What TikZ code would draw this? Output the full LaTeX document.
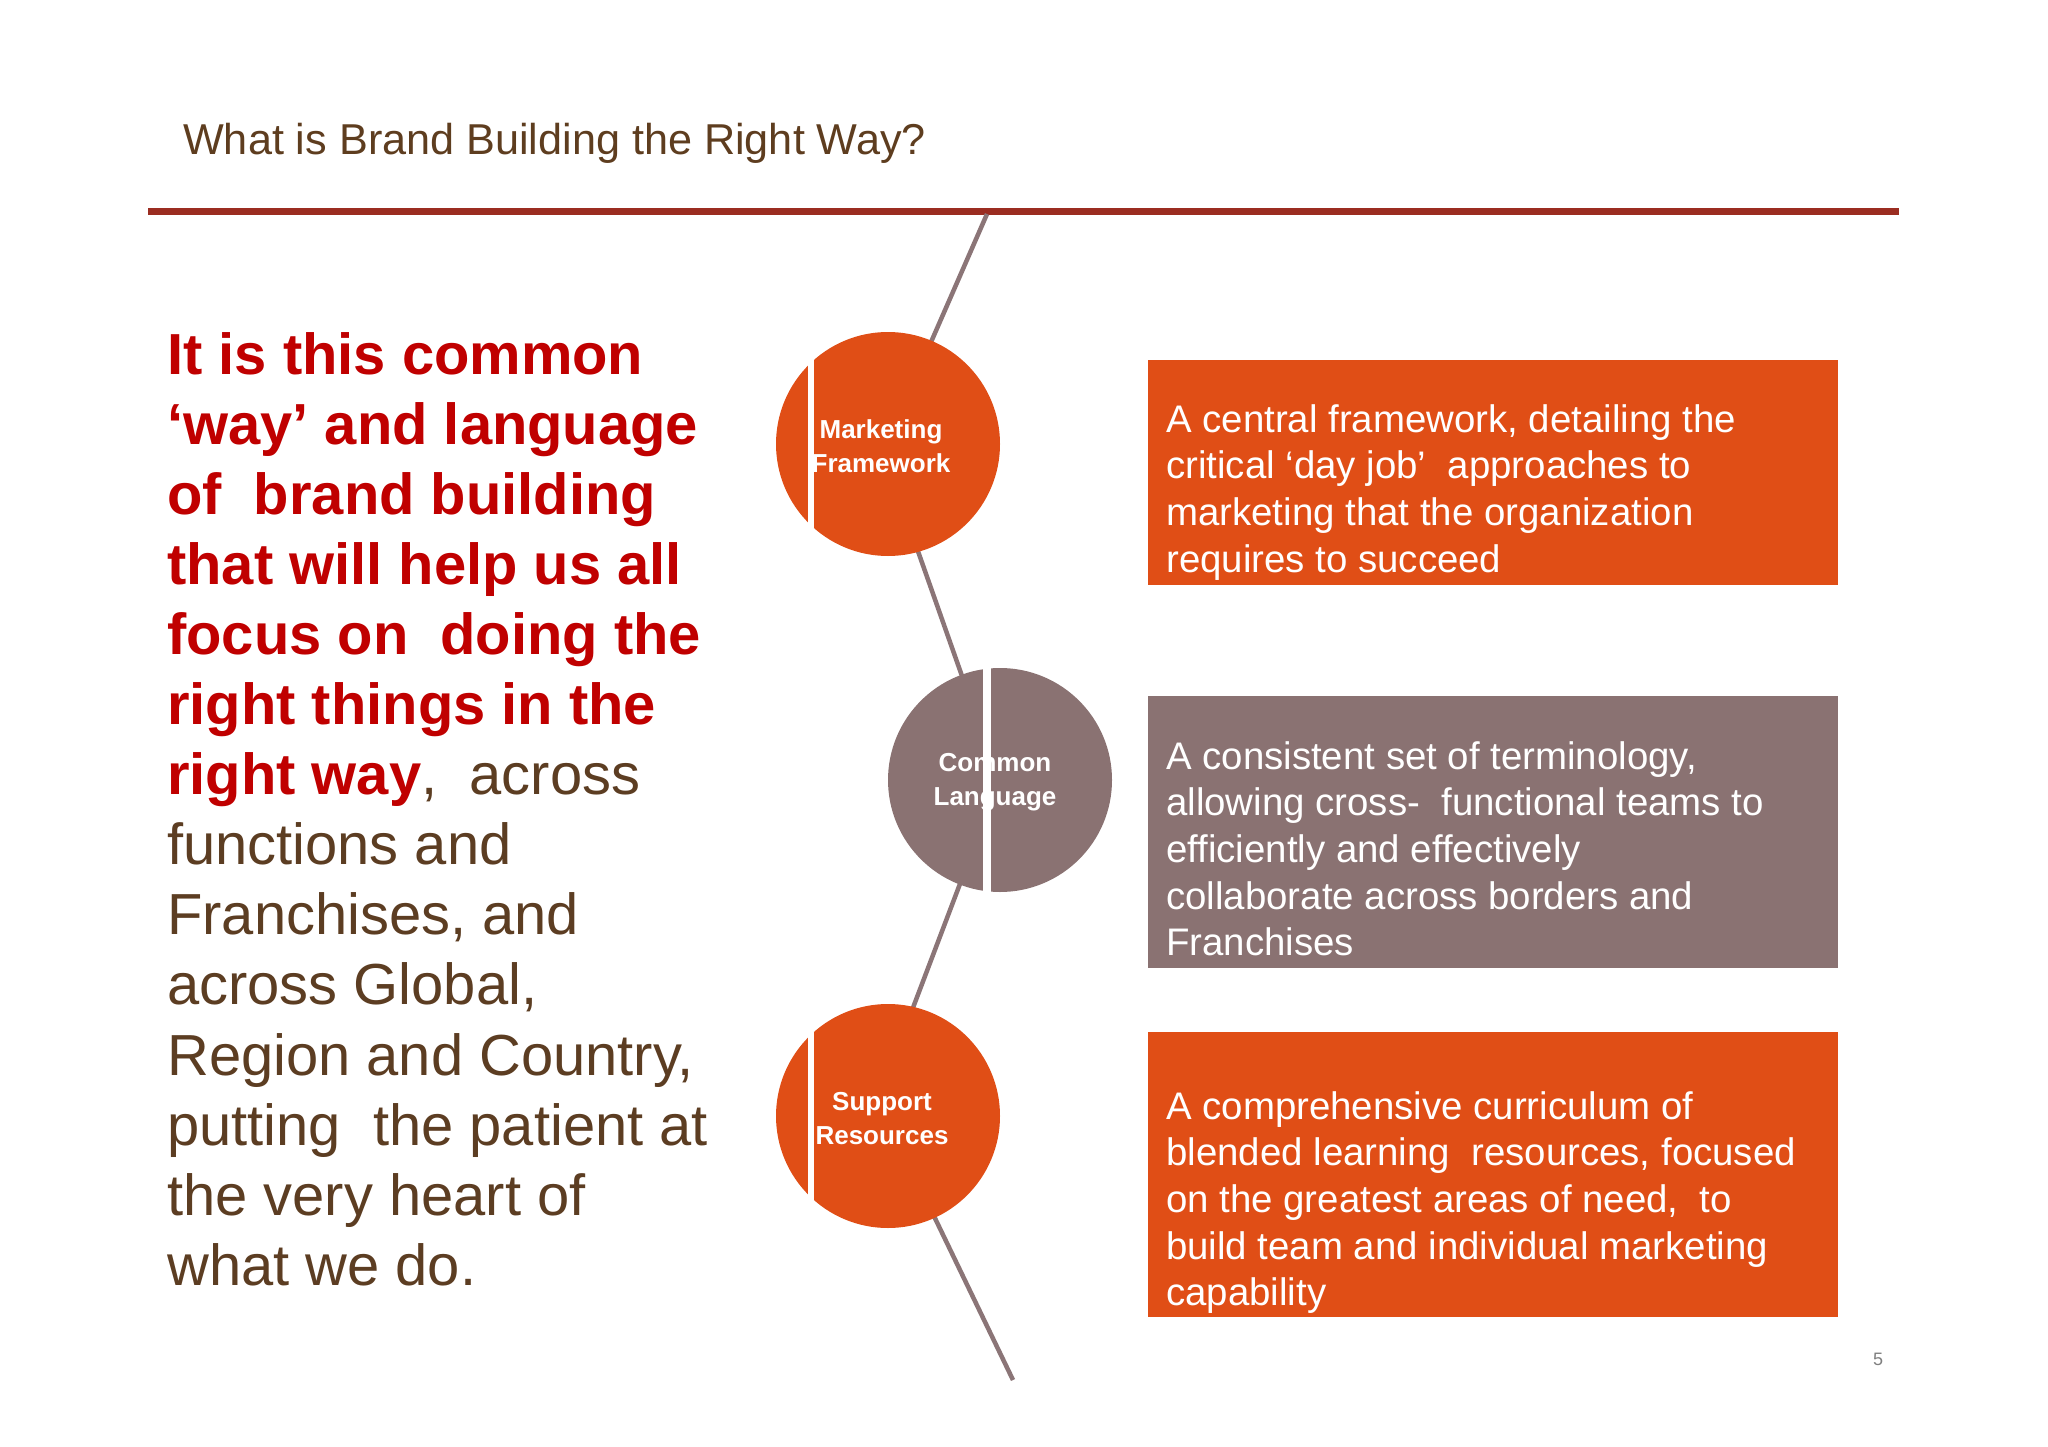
\documentclass[tikz,border=0pt]{standalone}
\usepackage{fontspec}
\setmainfont{Liberation Sans}
\definecolor{titlebrown}{HTML}{5E3D1F}
\definecolor{textbrown}{HTML}{5C3D22}
\definecolor{hired}{HTML}{C00000}
\definecolor{rulered}{HTML}{9B2D21}
\definecolor{orng}{HTML}{E04E16}
\definecolor{mauve}{HTML}{8A7272}
\definecolor{linegrey}{HTML}{8B7577}
\definecolor{pagegrey}{HTML}{7F7F7F}
\begin{document}
\begin{tikzpicture}[x=1pt,y=-1pt,
  disc/.style={circle, minimum size=224pt, inner sep=0pt},
  panel/.style={rectangle, inner sep=0pt, anchor=north west, minimum width=690pt},
  paneltext/.style={anchor=base west, inner sep=0pt, text=white, font=\fontsize{38.4}{46.7}\selectfont},
  disclabel/.style={text=white, font=\bfseries\fontsize{26}{34}\selectfont, align=center, inner sep=0pt},
  zig/.style={draw=linegrey, line width=4.5pt},
  gapfill/.style={fill=white}
]
\useasboundingbox (0,0) rectangle (2048,1447);
\fill[white] (0,0) rectangle (2048,1447);

% title and rule
\node[anchor=base west, inner sep=0pt, text=titlebrown, font=\fontsize{43.2}{50}\selectfont] (title) at (183,155) {What is Brand Building the Right Way?};
\coordinate (ruleL) at (148,211.5);
\coordinate (ruleR) at (1899,211.5);
\draw[rulered, line width=7pt] (ruleL) -- (ruleR);

% zigzag connector
\coordinate (ztop) at (987,214);
\coordinate (p1) at (883,452);
\coordinate (p2) at (999,781);
\coordinate (p3) at (878,1100);
\coordinate (zbot) at (1013,1380);
\draw[zig] (ztop) -- (p1) -- (p2) -- (p3) -- (zbot);

% circles
\node[disc, fill=orng] (c1) at (888,444) {};
\node[disc, fill=mauve] (c2) at (1000,780) {};
\node[disc, fill=orng] (c3) at (888,1116) {};

\node[disclabel] (l1) at (881,446) {Marketing\\Framework};
\node[disclabel] (l2) at (995,782) {Common\\Language};
\node[disclabel] (l3) at (882,1119) {Support\\Resources};

% white stripes
\begin{scope}
  \clip (c1.center) circle[radius=113];
  \fill[gapfill] (808,320) rectangle (814,570);
\end{scope}
\begin{scope}
  \clip (c2.center) circle[radius=113];
  \fill[gapfill] (983,660) rectangle (991,900);
\end{scope}
\begin{scope}
  \clip (c3.center) circle[radius=113];
  \fill[gapfill] (808,990) rectangle (814,1240);
\end{scope}

% panels
\node[panel, fill=orng, minimum height=225pt] (b1) at (1148,360) {};
\node[panel, fill=mauve, minimum height=272pt] (b2) at (1148,696) {};
\node[panel, fill=orng, minimum height=285pt] (b3) at (1148,1032) {};

\node[paneltext] (t1) at (1166,432) {\vtop{\baselineskip=46.7pt
  \hbox{A central framework, detailing the}
  \hbox{critical ‘day job’\ \ approaches to}
  \hbox{marketing that the organization}
  \hbox{requires to succeed}}};
\node[paneltext] (t2) at (1166,769) {\vtop{\baselineskip=46.7pt
  \hbox{A consistent set of terminology,}
  \hbox{allowing cross-\ \ functional teams to}
  \hbox{efficiently and effectively}
  \hbox{collaborate across borders and}
  \hbox{Franchises}}};
\node[paneltext] (t3) at (1166,1119) {\vtop{\baselineskip=46.7pt
  \hbox{A comprehensive curriculum of}
  \hbox{blended learning\ \ resources, focused}
  \hbox{on the greatest areas of need,\ \ to}
  \hbox{build team and individual marketing}
  \hbox{capability}}};

% left statement
\node[anchor=base west, inner sep=0pt, text=textbrown, font=\fontsize{57.9}{70.1}\selectfont] (body) at (167,374) {\vtop{\baselineskip=70.1pt
  \hbox{\color{hired}\bfseries It is this common}
  \hbox{\color{hired}\bfseries ‘way’ and language}
  \hbox{\color{hired}\bfseries of\ \ brand building}
  \hbox{\color{hired}\bfseries that will help us all}
  \hbox{\color{hired}\bfseries focus on\ \ doing the}
  \hbox{\color{hired}\bfseries right things in the}
  \hbox{{\color{hired}\bfseries right way},\ \ across}
  \hbox{functions and}
  \hbox{Franchises, and}
  \hbox{across Global,}
  \hbox{Region and Country,}
  \hbox{putting\ \ the patient at}
  \hbox{the very heart of}
  \hbox{what we do.}}};

\node[anchor=base, inner sep=0pt, text=pagegrey, font=\fontsize{18}{20}\selectfont] (pg) at (1878,1365) {5};
\end{tikzpicture}
\end{document}
